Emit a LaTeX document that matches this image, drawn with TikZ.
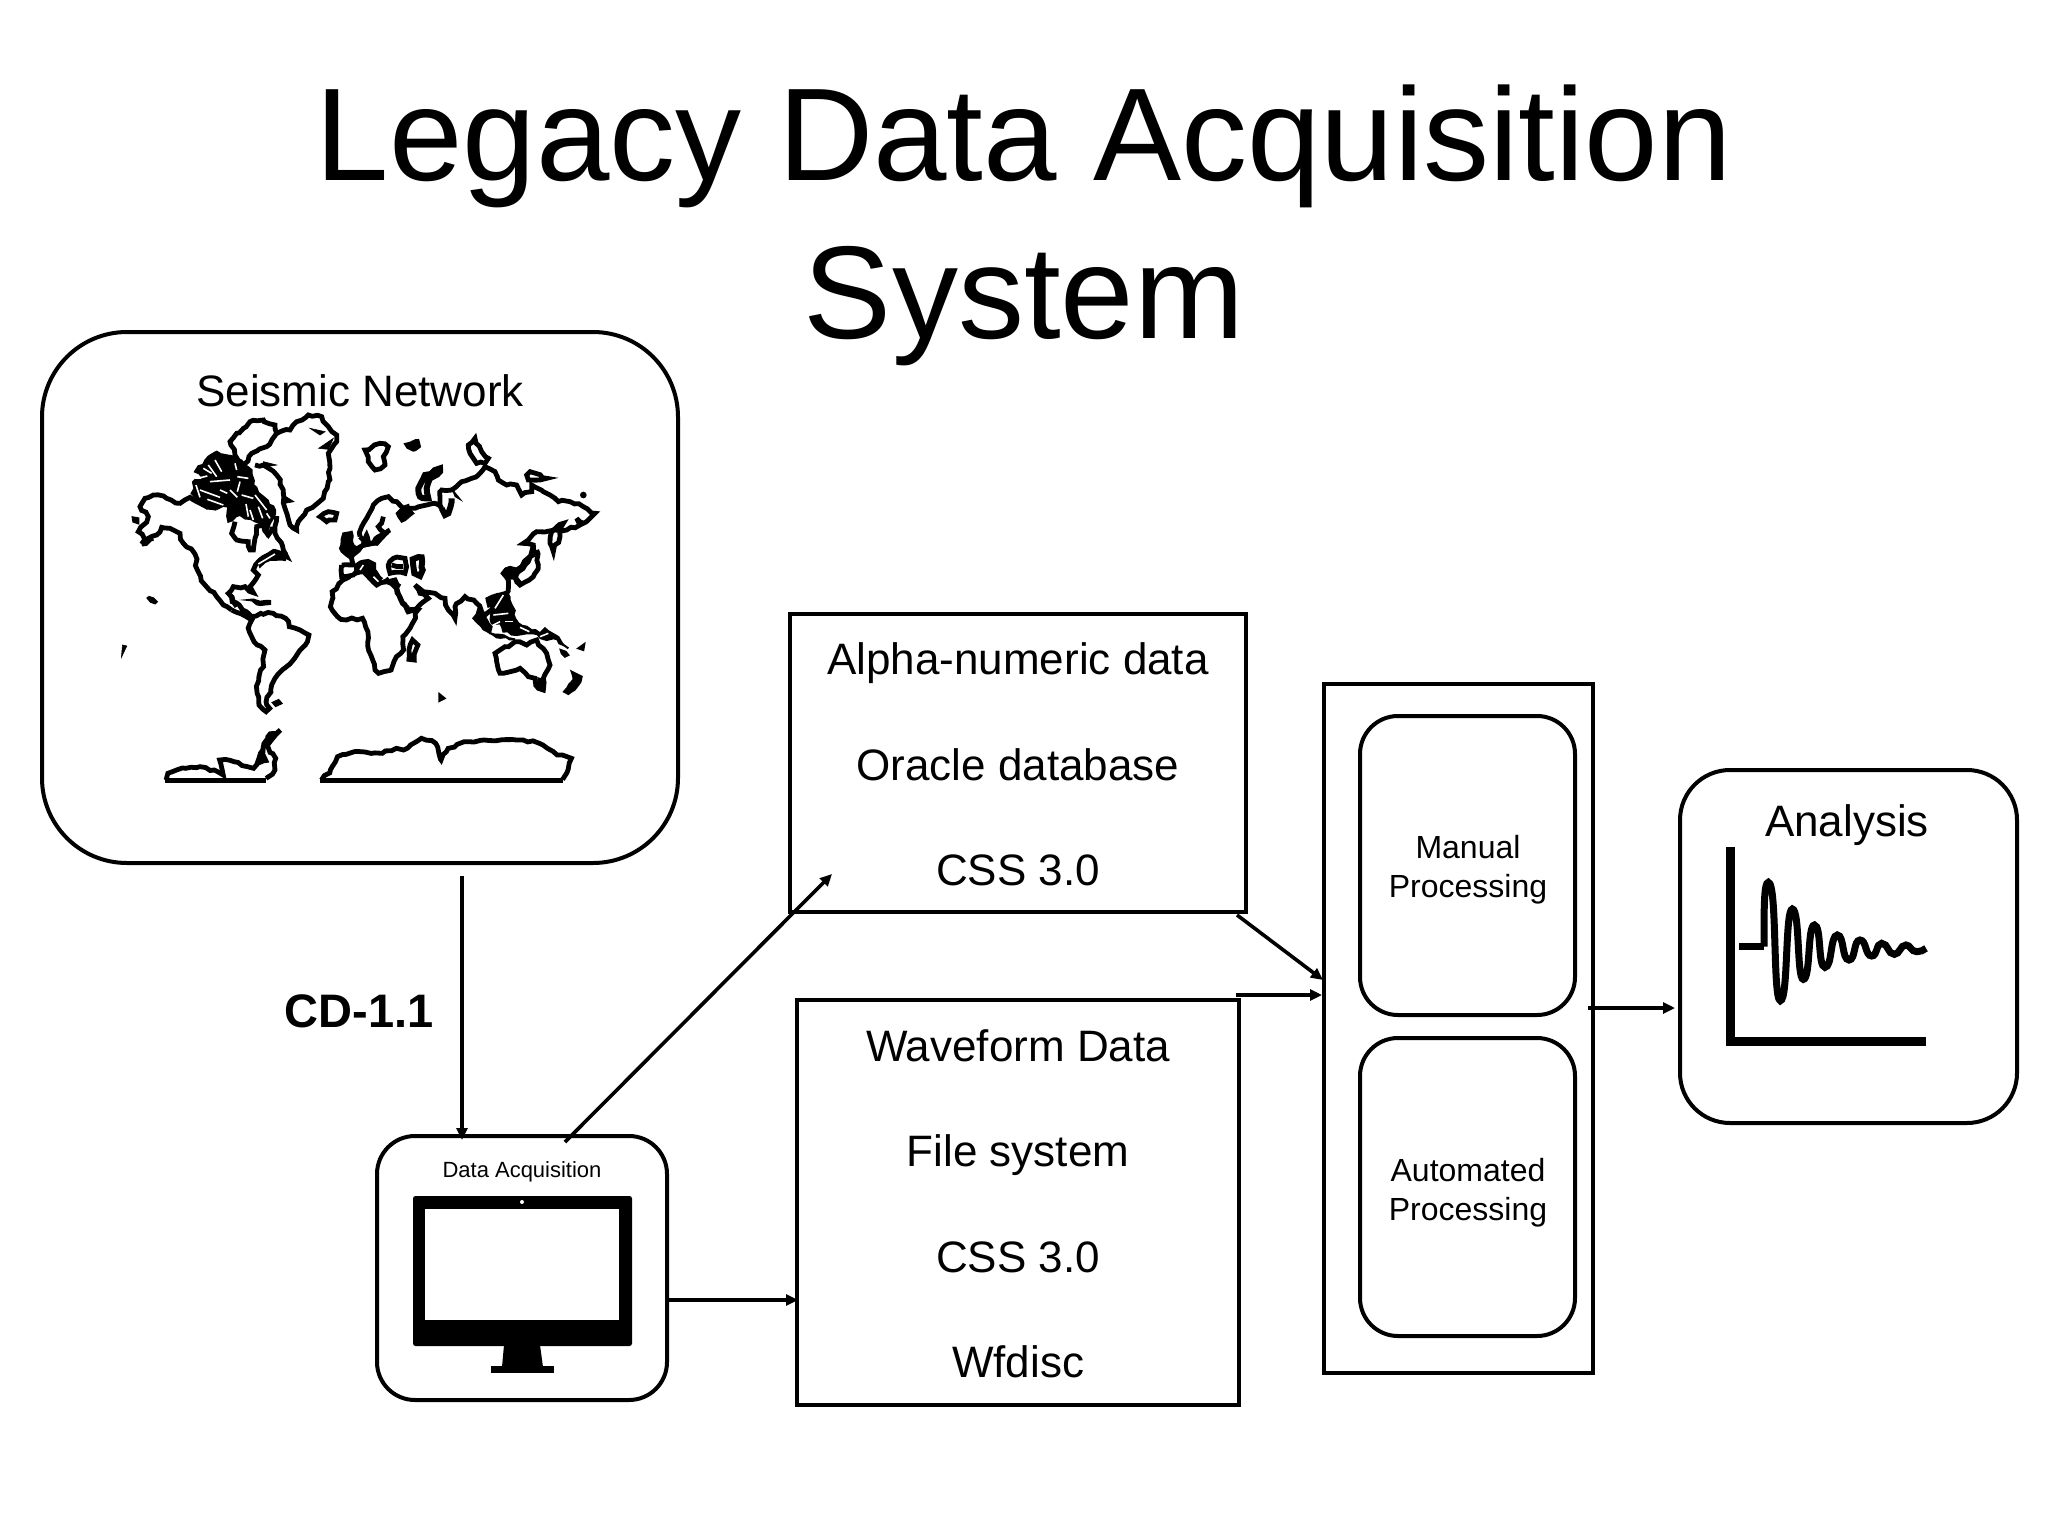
\documentclass[tikz,border=0pt]{standalone}
\usepackage{fontspec}
\setmainfont{Liberation Sans}
\usetikzlibrary{arrows.meta,decorations.pathmorphing}
\tikzset{
  boxshape/.style={draw=black,line width=4pt,fill=white,inner sep=0pt,outer sep=0pt},
  squarebox/.style={boxshape},
  roundbox/.style={boxshape,rounded corners=#1},
  lab/.style={anchor=base,inner sep=0pt,font=\fontsize{44}{52}\selectfont},
  small/.style={anchor=base,inner sep=0pt,font=\fontsize{32}{39}\selectfont,align=center},
  conn/.style={line width=3.6pt,-{Triangle[length=12pt,width=11pt]}},
  coast/.style={draw=black,line width=4.8pt,line join=miter,miter limit=5,decorate,decoration={random steps,segment length=5pt,amplitude=1.5pt}},
  blob/.style={draw=black,fill=black,line width=2pt,line join=miter,decorate,decoration={random steps,segment length=5pt,amplitude=1.5pt}},
  spike/.style={fill=black,draw=black,line width=.6pt},
  gap/.style={draw=white,line width=1.6pt},
  zfull/.style={shift={(100,400)},xscale=0.35714,yscale=0.33333},
  zna/.style={shift={(120,410)},scale=0.33333},
  zeu/.style={shift={(320,430)},scale=0.33333},
  zse/.style={shift={(440,590)},scale=0.33333},
  zwav/.style={shift={(1660,760)},scale=0.33333}
}
\begin{document}
\begin{tikzpicture}[x=1pt,y=-1pt]
\useasboundingbox (0,0) rectangle (2048,1536);
\fill[white] (0,0) rectangle (2048,1536);
\pgfmathsetseed{7}

% title
\node[align=center,inner sep=0pt,anchor=north,font=\fontsize{132}{158}\selectfont] (title) at (1024,85) {Legacy Data Acquisition\\System};

% boxes
\node[roundbox=85pt,minimum width=636pt,minimum height=531pt] (seismic) at (360,597.5) {};
\node[roundbox=38pt,minimum width=290pt,minimum height=264pt] (acq) at (522,1268) {};
\node[squarebox,minimum width=456pt,minimum height=298pt] (alpha) at (1018,763) {};
\node[squarebox,minimum width=442pt,minimum height=405pt] (wave) at (1018,1202.5) {};
\node[squarebox,minimum width=269pt,minimum height=689pt] (proc) at (1458.5,1028) {};
\node[roundbox=38pt,minimum width=215pt,minimum height=299pt] (manual) at (1467.5,865.5) {};
\node[roundbox=38pt,minimum width=215pt,minimum height=298pt] (auto) at (1467.5,1187) {};
\node[roundbox=50pt,minimum width=337pt,minimum height=353pt] (analysis) at (1848.5,946.5) {};

% labels
\node[lab] (tseis) at (360,406) {Seismic Network};
\node[lab,font=\fontsize{22}{26}\selectfont] (tacq) at (522,1177) {Data Acquisition};
\node[lab] (ta1) at (1018,674) {Alpha-numeric data};
\node[lab] (ta2) at (1018,780) {Oracle database};
\node[lab] (ta3) at (1018,885) {CSS 3.0};
\node[lab] (tw1) at (1018,1061) {Waveform Data};
\node[lab] (tw2) at (1018,1166) {File system};
\node[lab] (tw3) at (1018,1272) {CSS 3.0};
\node[lab] (tw4) at (1018,1377) {Wfdisc};
\node[small,anchor=center] (tman) at (1468,870) {Manual\\Processing};
\node[small,anchor=center] (taut) at (1468,1193) {Automated\\Processing};
\node[lab] (tana) at (1847,836) {Analysis};
\node[lab,font=\bfseries\fontsize{47}{55}\selectfont] (tcd) at (359,1027) {CD-1.1};

% connector ends
\coordinate (s1) at (462,876);
\coordinate (s2) at (462,1140);
\coordinate (a1) at (565,1142);
\coordinate (a2) at (832,874);
\coordinate (b1) at (668,1300);
\coordinate (b2) at (798,1300);
\coordinate (c1) at (1237,915);
\coordinate (c2) at (1323,980);
\coordinate (d1) at (1236,995);
\coordinate (d2) at (1322,995);
\coordinate (e1) at (1588,1008);
\coordinate (e2) at (1675,1008);
\draw[conn] (s1) -- (s2);
\draw[conn] (a1) -- (a2);
\draw[conn] (b1) -- (b2);
\draw[conn] (c1) -- (c2);
\draw[conn] (d1) -- (d2);
\draw[conn] (e1) -- (e2);

% monitor
\fill[black,rounded corners=2.5pt] (413,1196) rectangle (632,1346);
\fill[white] (425,1209) rectangle (619,1320);
\fill[white] (522,1202) circle (2pt);
\fill[black] (504,1345) -- (540,1345) -- (543,1367) -- (502,1367) -- cycle;
\fill[black] (491,1366) rectangle (554,1373);

% analysis plot
\begin{scope}[zwav]
\draw[line width=8.5pt,line join=miter] (212,262) -- (212,845) -- (797,845);
\draw[line width=7pt,line join=miter] (238,560) -- (312,560);
\draw[line width=7pt,line cap=butt] (312,560) .. controls (312,440) and (312,367) .. (325,367)
 .. controls (352,367) and (338,722) .. (361,722)
 .. controls (385,722) and (375,447) .. (397,447)
 .. controls (420,447) and (410,658) .. (430,658)
 .. controls (452,658) and (442,495) .. (463,495)
 .. controls (485,495) and (473,622) .. (495,622)
 .. controls (517,622) and (510,525) .. (532,525)
 .. controls (553,525) and (545,600) .. (567,600)
 .. controls (587,600) and (580,540) .. (600,540)
 .. controls (620,540) and (615,588) .. (635,588)
 .. controls (653,588) and (648,550) .. (665,550)
 .. controls (685,550) and (683,583) .. (703,583)
 .. controls (720,583) and (720,555) .. (738,555)
 .. controls (752,555) and (752,575) .. (770,575)
 .. controls (780,575) and (790,572) .. (798,565);
\end{scope}

% ------- map: North America and Greenland
\begin{scope}[zna]
\draw[coast] (470,318) -- (465,370) -- (490,420) -- (500,440) -- (460,425) -- (420,450) -- (400,480) -- (415,495) -- (390,530) -- (400,548) -- (375,530) -- (340,530) -- (325,550) -- (340,575) -- (350,590);
\draw[coast] (335,600) -- (310,585) -- (290,560) -- (255,525) -- (232,480) -- (225,432) -- (190,400) -- (180,370) -- (150,355) -- (125,352) -- (110,375) -- (85,385) -- (65,402) -- (85,390) -- (75,390) -- (55,365) -- (70,345) -- (85,320) -- (60,290) -- (75,265) -- (100,255) -- (140,265) -- (180,280) -- (210,262) -- (250,285) -- (290,295);
\draw[coast] (345,335) -- (335,370) -- (350,390) -- (385,395) -- (390,420) -- (400,420) -- (405,385) -- (410,350) -- (430,345) -- (445,375) -- (455,350);
\draw[coast] (470,70) -- (510,60) -- (530,35) -- (565,15) -- (605,20) -- (625,50) -- (650,75) -- (650,95) -- (625,130) -- (630,175) -- (625,215) -- (610,265) -- (560,300) -- (535,335) -- (530,360) -- (510,345) -- (495,295) -- (490,240) -- (470,195) -- (430,165) -- (405,165);
\draw[coast] (470,70) -- (465,45) -- (430,30) -- (390,35) -- (350,70) -- (330,95) -- (345,135) -- (370,165) -- (395,130) -- (440,110) -- (470,70);
\fill[spike] (430,155) -- (470,165) -- (430,172) -- cycle;
\fill[spike] (495,258) -- (522,275) -- (495,280) -- cycle;
\fill[spike] (570,55) -- (615,65) -- (600,75) -- cycle;
\fill[spike] (596,115) -- (640,85) -- (625,118) -- cycle;
\fill[blob] (225,185) -- (265,140) -- (290,125) -- (340,145) -- (395,180) -- (400,225) -- (430,260) -- (465,300) -- (450,340) -- (440,375) -- (420,340) -- (360,315) -- (325,335) -- (325,290) -- (260,295) -- (240,270) -- (215,250) -- (225,210) -- (250,205) -- cycle;
\draw[gap] (270,215) -- (330,210);
\draw[gap] (352,200) -- (385,205);
\draw[gap] (240,240) -- (300,262);
\draw[gap] (378,282) -- (385,320);
\draw[gap] (415,290) -- (428,325);
\draw[gap] (250,175) -- (275,190);
\draw[gap] (345,160) -- (350,180);
\draw[gap] (390,300) -- (400,330);
\draw[gap] (232,205) -- (262,198);
\draw[gap] (285,150) -- (305,185);
\draw[gap] (228,225) -- (240,262);
\draw[gap] (262,268) -- (310,285);
\draw[gap] (330,240) -- (352,262);
\draw[gap] (300,240) -- (322,250);
\draw[gap] (405,255) -- (440,300);
\draw[gap] (365,255) -- (400,265);
\draw[gap] (265,165) -- (290,200);
\draw[gap] (360,215) -- (352,245);
\draw[gap] (440,310) -- (450,325);
\fill[spike] (325,335) -- (330,270) -- (345,290) -- cycle;
\draw[coast] (600,320) -- (625,305) -- (650,310) -- (645,330) -- (620,335) -- cycle;
\fill[blob] (420,445) -- (465,420) -- (500,430) -- (495,450) -- (450,450) -- (420,470) -- cycle;
\draw[gap] (415,462) -- (465,432);
\fill[blob] (38,322) -- (55,325) -- (55,340) -- (40,335) -- cycle;
\fill[blob] (85,560) -- (100,565) -- (110,575) -- (105,580) -- (85,565) -- cycle;
\draw[coast,line width=5pt] (65,402) -- (100,385);
\fill[blob] (385,570) -- (420,575) -- (450,573) -- (450,582) -- (410,583) -- cycle;
\end{scope}

% ------- map: Eurasia
\begin{scope}[zeu]
\draw[coast] (120,320) -- (125,290) -- (160,225) -- (185,205) -- (205,200) -- (230,215) -- (255,240) -- (270,235) -- (285,235) -- (320,225) -- (345,220) -- (365,235) -- (360,205) -- (365,180) -- (395,180) -- (425,155) -- (455,145) -- (480,130) -- (495,110) -- (525,125) -- (535,150) -- (560,165) -- (590,165) -- (605,195) -- (635,185) -- (635,165) -- (670,185) -- (690,195) -- (715,215) -- (750,215) -- (790,230) -- (825,250) -- (810,265) -- (790,280) -- (770,265) -- (780,285) -- (740,300) -- (705,300) -- (650,305) -- (625,330) -- (610,340) -- (640,345) -- (640,375) -- (590,420) -- (570,415) -- (550,430) -- (565,450) -- (560,490) -- (520,505) -- (510,520) -- (525,530) -- (495,555) -- (470,520) -- (435,500) -- (405,530) -- (405,565) -- (385,540) -- (375,505) -- (345,490) -- (310,485) -- (285,465) -- (300,490) -- (325,505) -- (290,535) -- (265,545) -- (240,505) -- (225,465) -- (200,455) -- (170,465) -- (145,440) -- (130,425) -- (105,430);
\draw[coast] (120,320) -- (135,345) -- (160,340) -- (175,320) -- (195,310) -- (175,290) -- (190,260);
\draw[coast] (100,365) -- (130,345) -- (170,340) -- (210,300);
\fill[blob] (125,345) -- (140,305) -- (155,340) -- cycle;
\fill[blob] (230,250) -- (265,225) -- (280,250) -- (245,275) -- cycle;
\fill[blob] (60,355) -- (70,310) -- (95,305) -- (100,345) -- (125,355) -- (90,385) -- (65,365) -- cycle;
\draw[coast] (65,405) -- (100,405) -- (95,375);
\draw[coast] (65,405) -- (65,440) -- (100,435) -- (125,400);
\fill[blob] (105,405) -- (145,390) -- (165,400) -- (170,425) -- (185,445) -- (170,465) -- (145,440) -- (130,425) -- (105,430) -- cycle;
\draw[gap] (120,420) -- (130,405);
\draw[gap] (160,440) -- (175,455);
\draw[coast] (205,405) -- (220,385) -- (255,385) -- (260,410) -- (255,430) -- (210,430) -- cycle;
\draw[coast] (215,405) -- (250,410);
\draw[coast] (190,455) -- (225,450) -- (240,470);
\draw[coast,line width=6pt] (278,388) -- (305,382) -- (308,420) -- (300,438) -- (283,430) -- cycle;
\draw[coast] (135,60) -- (180,40) -- (205,50) -- (190,80) -- (195,105) -- (165,120) -- (145,95) -- cycle;
\fill[blob] (255,42) -- (295,30) -- (300,50) -- (280,62) -- cycle;
\draw[coast,line width=6pt] (300,200) -- (295,175) -- (315,135) -- (360,115) -- (360,125) -- (330,145) -- (320,175) -- (325,205) -- cycle;
\draw[coast] (445,45) -- (465,25) -- (485,65) -- (505,85) -- (495,100) -- (470,100) -- (450,70) -- cycle;
\draw[coast] (620,135) -- (630,125) -- (680,145) -- (660,150) -- (625,150) -- cycle;
\fill[black] (790,195) circle (10);
\draw[coast,line width=6pt] (365,235) -- (375,255) -- (385,250) -- (395,205);
\fill[spike] (395,175) -- (425,212) -- (405,200) -- cycle;
\draw[coast] (695,305) -- (730,280) -- (720,320) -- (700,365) -- (690,340) -- cycle;
\draw[coast] (600,460) -- (585,435) -- (625,395) -- (640,345);
\draw[coast] (650,360) -- (655,405) -- (640,440) -- (600,465) -- (565,425);
\fill[blob] (550,425) -- (570,412) -- (595,430) -- (590,445) -- (565,440) -- cycle;
\fill[blob] (500,510) -- (520,500) -- (525,525) -- (505,530) -- cycle;
\end{scope}

% ------- map: South-East Asia and Oceania
\begin{scope}[zse]
\fill[blob] (100,85) -- (115,55) -- (155,110) -- (150,130) -- (225,148) -- (170,142) -- (130,118) -- cycle;
\fill[blob] (155,100) -- (150,35) -- (140,25) -- (200,5) -- (215,45) -- (235,100) -- (260,110) -- (300,130) -- (315,115) -- (345,135) -- (385,175) -- (340,145) -- (320,150) -- (280,130) -- (260,130) -- (230,135) -- (190,125) -- (180,100) -- cycle;
\draw[gap] (160,105) -- (180,95);
\draw[gap] (165,55) -- (190,15);
\draw[gap] (195,95) -- (220,95);
\draw[gap] (160,75) -- (205,70);
\draw[gap] (240,112) -- (268,125);
\draw[gap] (300,140) -- (325,130);
\draw[coast] (165,190) -- (180,180) -- (225,155) -- (260,165) -- (290,150) -- (320,190) -- (330,225) -- (310,265) -- (310,300) -- (295,295) -- (285,265) -- (265,260) -- (240,235) -- (190,250) -- (180,250) -- (170,215) -- cycle;
\fill[blob] (295,265) -- (310,270) -- (310,300) -- (298,295) -- cycle;
\fill[blob] (395,245) -- (425,260) -- (415,285) -- (385,312) -- (372,305) -- (400,270) -- cycle;
\fill[blob] (362,180) -- (385,195) -- (375,200) -- (365,190) -- cycle;
\fill[blob] (415,175) -- (433,162) -- (430,180) -- cycle;
\end{scope}

% ------- map: South America, Africa, Antarctica, small islands
\begin{scope}[zfull]
\draw[coast] (369,630) -- (410,650) -- (425,660) -- (420,670) -- (418,695) -- (440,735) -- (462,750) -- (458,800) -- (445,830) -- (440,880) -- (445,915) -- (465,935) -- (475,925) -- (465,905) -- (478,870) -- (490,835) -- (510,810) -- (545,775) -- (575,735) -- (585,705) -- (560,690) -- (530,680) -- (520,655) -- (485,640) -- (450,640) -- (425,650) -- (410,635) -- (390,615) -- (370,605) -- (360,580);
\draw[coast] (700,530) -- (680,540) -- (650,575) -- (645,620) -- (665,650) -- (690,660) -- (735,655) -- (750,695) -- (750,740) -- (770,810) -- (780,820) -- (815,810) -- (830,770) -- (850,750) -- (848,710) -- (875,670) -- (890,630) -- (860,630) -- (830,565) -- (800,535);
\draw[coast] (875,720) -- (890,735) -- (880,780) -- (865,778) -- (865,750) -- cycle;
\fill[blob] (484,908) -- (500,900) -- (508,910) -- (492,918) -- cycle;
\fill[spike] (60,772) -- (63,735) -- (75,738) -- cycle;
\fill[blob] (950,882) -- (965,895) -- (950,903) -- cycle;
\draw[coast] (185,1140) -- (190,1120) -- (240,1105) -- (280,1100) -- (320,1110) -- (345,1125) -- (335,1080) -- (375,1085) -- (430,1105) -- (445,1075) -- (470,1010) -- (505,990) -- (480,1020) -- (470,1040) -- (492,1075) -- (490,1110) -- (465,1135);
\draw[coast] (620,1140) -- (645,1110) -- (665,1070) -- (730,1055) -- (790,1060) -- (830,1045) -- (850,1050) -- (900,1015) -- (940,1030) -- (955,1080) -- (975,1045) -- (1020,1025) -- (1075,1020) -- (1110,1022) -- (1185,1020) -- (1230,1030) -- (1280,1065) -- (1320,1075) -- (1295,1138);
\draw[line width=4.5pt] (183,1141) -- (465,1141);
\draw[line width=4.5pt] (615,1141) -- (1296,1141);
\fill[blob] (440,1095) -- (460,1050) -- (470,1085) -- cycle;
\end{scope}
\end{tikzpicture}
\end{document}
